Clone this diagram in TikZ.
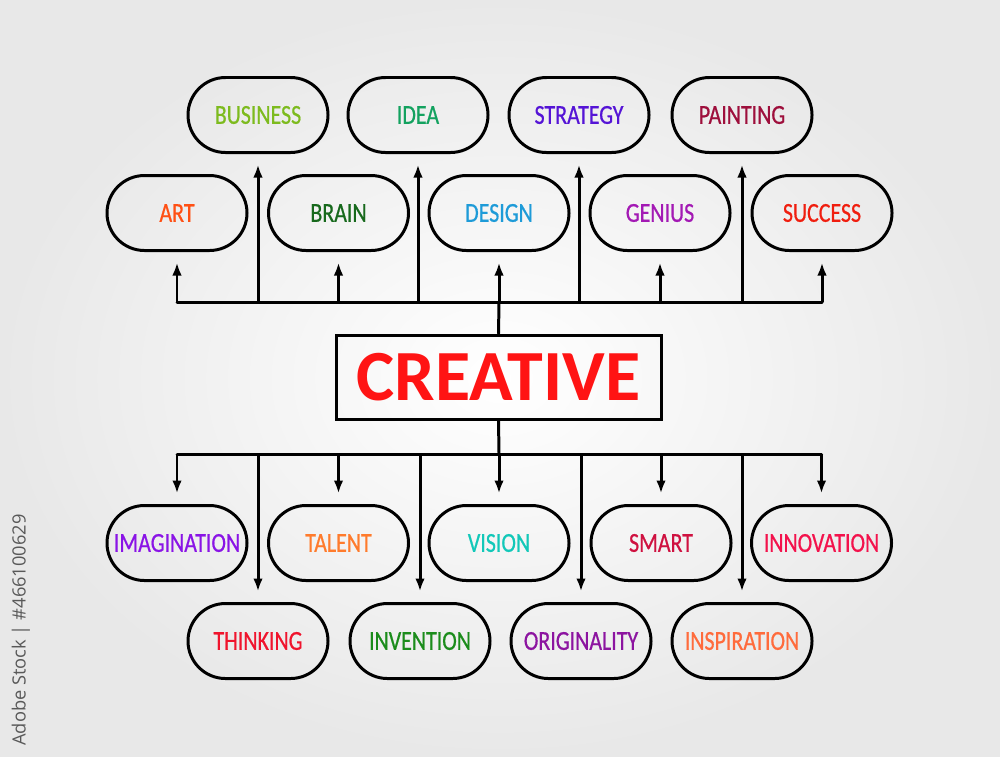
\documentclass[tikz,border=0pt]{standalone}
\usepackage{xcolor}
\usepackage{fontspec}
\setmainfont{Carlito}
\newfontfamily\handfont[FakeStretch=0.8, FakeBold=0.6]{Carlito}
\newfontfamily\markfont{Open Sans}
\usepackage{tikz}
\usetikzlibrary{calc}
\usetikzlibrary{arrows.meta}
\usetikzlibrary{positioning}

\definecolor{cBusiness}{HTML}{7DBB1E}
\definecolor{cIdea}{HTML}{13A25F}
\definecolor{cArt}{HTML}{FF5014}
\definecolor{cBrain}{HTML}{17691C}
\definecolor{cDesign}{HTML}{1E9BD8}
\definecolor{cStrategy}{HTML}{5514D6}
\definecolor{cPainting}{HTML}{9E0F3C}
\definecolor{cGenius}{HTML}{A319B4}
\definecolor{cSuccess}{HTML}{F01E0F}
\definecolor{cCreative}{HTML}{FF1414}
\definecolor{cImagination}{HTML}{8A14E6}
\definecolor{cTalent}{HTML}{FF7B2C}
\definecolor{cVision}{HTML}{12C8B9}
\definecolor{cSmart}{HTML}{CF1140}
\definecolor{cInnovation}{HTML}{F3124C}
\definecolor{cThinking}{HTML}{F0142D}
\definecolor{cInvention}{HTML}{1B8C1B}
\definecolor{cOriginality}{HTML}{8C14A0}
\definecolor{cInspiration}{HTML}{FF6B3C}

\tikzset{>=latex}
\tikzstyle{word} = [rectangle, rounded corners=3.75mm, draw=black, line width=0.85pt, minimum width=1.4cm, minimum height=0.75cm, inner sep=0pt, font=\handfont\fontsize{7.8}{9}\selectfont]
\tikzstyle{bar} = [-, draw=black, line width=0.85pt, line cap=round]
\tikzstyle{link} = [-{Latex[length=1.3mm, width=0.95mm]}, draw=black, line width=0.85pt, shorten >= 1.05mm]

\begin{document}
\begin{tikzpicture}
\shade [inner color=white, outer color=black!9] (0, 0) rectangle (10, -7.56);
\useasboundingbox (0, 0) rectangle (10, -7.56);

\node [rectangle, draw=black, line width=0.85pt, minimum width=3.25cm, minimum height=0.84cm, text=cCreative, font=\bfseries\fontsize{20.5}{22}\selectfont] (C) at (4.985, -3.77) {CREATIVE};

% upper branches
\node [word, text=cBusiness] (BUS) at (2.58, -1.15) {BUSINESS};
\node [word, text=cIdea] (IDE) at (4.18, -1.15) {IDEA};
\node [word, text=cStrategy] (STR) at (5.79, -1.15) {STRATEGY};
\node [word, text=cPainting] (PAI) at (7.42, -1.15) {PAINTING};
\node [word, text=cArt] (ART) at (1.77, -2.13) {ART};
\node [word, text=cBrain] (BRA) at (3.385, -2.13) {BRAIN};
\node [word, text=cDesign] (DES) at (4.99, -2.13) {DESIGN};
\node [word, text=cGenius] (GEN) at (6.6, -2.13) {GENIUS};
\node [word, text=cSuccess] (SUC) at (8.22, -2.13) {SUCCESS};

% lower branches
\node [word, text=cImagination] (IMA) at (1.77, -5.43) {IMAGINATION};
\node [word, text=cTalent] (TAL) at (3.385, -5.43) {TALENT};
\node [word, text=cVision] (VIS) at (4.99, -5.43) {VISION};
\node [word, text=cSmart] (SMA) at (6.61, -5.43) {SMART};
\node [word, text=cInnovation] (INN) at (8.215, -5.43) {INNOVATION};
\node [word, text=cThinking] (THI) at (2.58, -6.41) {THINKING};
\node [word, text=cInvention] (INV) at (4.2, -6.41) {INVENTION};
\node [word, text=cOriginality] (ORI) at (5.81, -6.41) {ORIGINALITY};
\node [word, text=cInspiration] (INS) at (7.42, -6.41) {INSPIRATION};

\node [rotate=90, text=black!65, font=\markfont\fontsize{5.2}{6}\selectfont] (stock) at (0.21, -6.3) {Adobe Stock | \#466100629};

\coordinate (UP) at (4.99, -3.02);
\coordinate (DN) at (4.99, -4.54);

\draw [bar] (C.north) -- (UP);
\draw [bar] (ART |- UP) -- (SUC |- UP);
\foreach \n in {ART, BUS, BRA, IDE, DES, STR, GEN, PAI, SUC}
  \draw [link] (\n |- UP) -- (\n.south);

\draw [bar] (C.south) -- (DN);
\draw [bar] (IMA |- DN) -- (INN |- DN);
\foreach \n in {IMA, THI, TAL, INV, VIS, ORI, SMA, INS, INN}
  \draw [link] (\n |- DN) -- (\n.north);
\end{tikzpicture}
\end{document}
